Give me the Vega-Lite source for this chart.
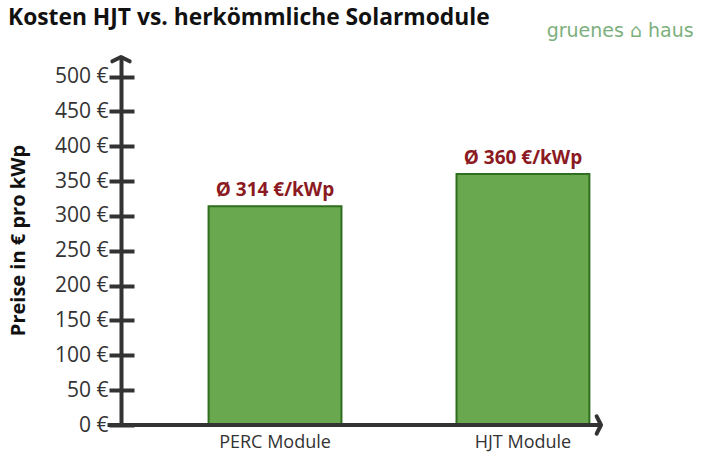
{
  "$schema": "https://vega.github.io/schema/vega-lite/v6.json",
  "autosize": "none",
  "width": 480,
  "height": 368,
  "padding": {"left": 121, "top": 57, "right": 101, "bottom": 43},
  "background": "white",
  "title": {"text": "Kosten HJT vs. herkömmliche Solarmodule", "anchor": "start", "frame": "group", "dx": -113, "offset": -8, "fontSize": 22.8, "fontWeight": "bold", "font": "Open Sans", "color": "#111111"},
  "config": {"view": {"stroke": null}, "font": "Open Sans"},
  "datasets": {
    "bars": [
      {"module": "PERC Module", "price": 314, "label": "Ø 314 €/kWp"},
      {"module": "HJT Module", "price": 360, "label": "Ø 360 €/kWp"}
    ],
    "arrows": [
      {"px": 1, "py": 0, "angle": 0},
      {"px": 0, "py": 528, "angle": -90}
    ],
    "xline": [{"a": -0.028, "b": 1, "py": 0}],
    "logo": [{"px": 1.04, "py": 565, "text": "gruenes ⌂ haus"}]
  },
  "layer": [
    {
      "data": {"name": "bars"},
      "encoding": {
        "x": {"field": "module", "type": "nominal", "sort": null,
          "scale": {"paddingInner": 0.464, "paddingOuter": 0.2, "align": 0.883},
          "axis": {"title": null, "domain": false, "ticks": false, "labelAngle": 0, "labelFontSize": 18, "labelColor": "#333333", "labelPadding": 8, "labelFont": "Open Sans"}},
        "y": {"field": "price", "type": "quantitative",
          "scale": {"domain": [0, 528], "nice": false},
          "axis": {"values": [0, 50, 100, 150, 200, 250, 300, 350, 400, 450, 500], "labelExpr": "datum.value + ' €'", "grid": true, "gridColor": "#333333", "gridWidth": 4, "gridDash": [13, 10000], "gridOpacity": 1, "domainColor": "#333333", "domainWidth": 4, "tickColor": "#333333", "tickWidth": 4, "tickSize": 12, "labelPadding": 1, "labelFontSize": 21, "labelColor": "#333333", "labelFont": "Open Sans",
            "title": "Preise in € pro kWp", "titleFontSize": 20, "titleFontWeight": "bold", "titleColor": "#111111", "titleAngle": -90, "titleX": -103, "titleY": 183, "titleAlign": "center", "titleBaseline": "middle"}}
      },
      "layer": [
        {"mark": {"type": "bar", "color": "#6aa84f", "stroke": "#2f6e1f", "strokeWidth": 2}},
        {"mark": {"type": "text", "baseline": "bottom", "dy": -6, "fontSize": 19, "fontWeight": "bold", "color": "#8b1a22"},
          "encoding": {"text": {"field": "label"}}}
      ]
    },
    {
      "layer": [
        {"data": {"name": "xline"},
          "mark": {"type": "rule", "color": "#333333", "strokeWidth": 4},
          "encoding": {
            "x": {"field": "a", "type": "quantitative", "scale": {"domain": [0, 1], "nice": false, "zero": false}, "axis": null},
            "x2": {"field": "b"},
            "y": {"field": "py", "type": "quantitative", "scale": {"domain": [0, 528], "nice": false}, "axis": null}
          }},
        {"data": {"name": "arrows"},
          "mark": {"type": "point", "shape": "M-0.5,-1L0,0L-0.5,1", "filled": false, "stroke": "#333333", "strokeWidth": 4, "size": 300, "opacity": 1, "strokeCap": "round", "strokeJoin": "round"},
          "encoding": {
            "x": {"field": "px", "type": "quantitative"},
            "y": {"field": "py", "type": "quantitative"},
            "angle": {"field": "angle", "type": "quantitative", "scale": null}
          }},
        {"data": {"name": "logo"},
          "mark": {"type": "text", "fontSize": 19, "color": "#7daf7d", "font": "DejaVu Sans", "align": "center", "baseline": "middle"},
          "encoding": {
            "x": {"field": "px", "type": "quantitative"},
            "y": {"field": "py", "type": "quantitative"},
            "text": {"field": "text"}
          }}
      ]
    }
  ],
  "resolve": {"scale": {"x": "independent", "y": "independent"}, "axis": {"x": "independent", "y": "independent"}}
}
